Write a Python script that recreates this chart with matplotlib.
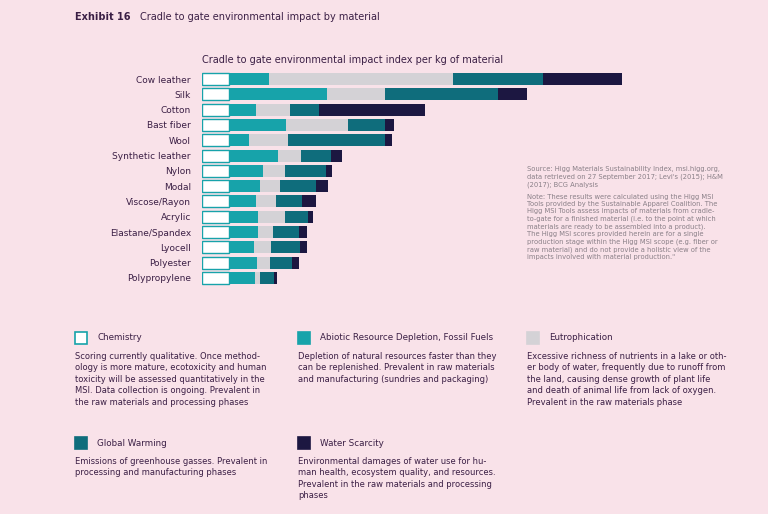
import matplotlib
matplotlib.use("Agg")
import matplotlib.pyplot as plt
import numpy as np

materials = ["Cow leather", "Silk", "Cotton", "Bast fiber", "Wool", "Synthetic leather", "Nylon",
             "Modal", "Viscose/Rayon", "Acrylic", "Elastane/Spandex", "Lyocell", "Polyester", "Polypropylene"]
chemistry = [27.3] * 14
abiotic = [39.3, 98.0, 26.7, 57.0, 19.7, 49.0, 33.3, 30.7, 26.7, 28.7, 28.7, 24.7, 28.0, 25.3]
eutro = [184.7, 57.7, 34.0, 62.0, 39.0, 22.3, 22.3, 20.3, 20.3, 27.0, 15.0, 17.0, 12.3, 5.3]
warming = [90.0, 112.7, 28.7, 36.7, 97.0, 30.3, 40.7, 36.0, 25.7, 23.0, 26.3, 29.0, 22.7, 13.7]
water = [78.3, 29.3, 106.0, 9.3, 6.7, 11.0, 6.0, 11.3, 14.3, 5.3, 8.0, 7.3, 6.3, 3.3]

BG = "#F9E2E9"
TXT = "#3B1F45"
GREY = "#8A8088"
C_CHEM = "#FFFFFF"; C_AB = "#17A3AA"; C_EU = "#D4D2D6"; C_GW = "#0F6D7C"; C_WS = "#1C1741"

W, H = 768, 514
fig = plt.figure(figsize=(W/100, H/100), dpi=100, facecolor=BG)

def fx(x): return x / W
def fy(y): return 1 - y / H

ax = fig.add_axes([fx(202), fy(285.6), 420/W, (285.6-71.4)/H])
ax.set_facecolor(BG)
y = np.arange(len(materials))
left = np.zeros(len(materials))
ax.barh(y, chemistry, left=left, height=0.78, color=C_CHEM, edgecolor=C_AB, linewidth=1.0)
left += np.array(chemistry)
for vals, c in [(abiotic, C_AB), (eutro, C_EU), (warming, C_GW), (water, C_WS)]:
    ax.barh(y, vals, left=left, height=0.78, color=c, linewidth=0)
    left += np.array(vals)
ax.set_xlim(0, 420)
ax.set_ylim(13.5, -0.5)
ax.set_yticks(y)
ax.set_yticklabels(materials, fontsize=6.5, color=TXT)
ax.tick_params(axis="y", length=0, pad=8)
ax.set_xticks([])
for s in ax.spines.values():
    s.set_visible(False)

fig.text(fx(75), fy(17), "Exhibit 16", fontsize=7, fontweight="bold", color=TXT, va="center")
fig.text(fx(140), fy(17), "Cradle to gate environmental impact by material", fontsize=7, color=TXT, va="center")
fig.text(fx(202), fy(60), "Cradle to gate environmental impact index per kg of material", fontsize=7, color=TXT, va="center")

src = ("Source: Higg Materials Sustainability Index, msi.higg.org,\n"
       "data retrieved on 27 September 2017; Levi's (2015); H&M\n"
       "(2017); BCG Analysis")
note = ("Note: These results were calculated using the Higg MSI\n"
        "Tools provided by the Sustainable Apparel Coalition. The\n"
        "Higg MSI Tools assess impacts of materials from cradle-\n"
        "to-gate for a finished material (i.e. to the point at which\n"
        "materials are ready to be assembled into a product).\n"
        "The Higg MSI scores provided herein are for a single\n"
        "production stage within the Higg MSI scope (e.g. fiber or\n"
        "raw material) and do not provide a holistic view of the\n"
        "impacts involved with material production.\"")
fig.text(fx(527), fy(166), src, fontsize=4.9, color=GREY, va="top", linespacing=1.25)
fig.text(fx(527), fy(194), note, fontsize=4.9, color=GREY, va="top", linespacing=1.25)

legend = [
    (75, 338, C_CHEM, "Chemistry",
     "Scoring currently qualitative. Once method-\nology is more mature, ecotoxicity and human\ntoxicity will be assessed quantitatively in the\nMSI. Data collection is ongoing. Prevalent in\nthe raw materials and processing phases"),
    (298, 338, C_AB, "Abiotic Resource Depletion, Fossil Fuels",
     "Depletion of natural resources faster than they\ncan be replenished. Prevalent in raw materials\nand manufacturing (sundries and packaging)"),
    (527, 338, C_EU, "Eutrophication",
     "Excessive richness of nutrients in a lake or oth-\ner body of water, frequently due to runoff from\nthe land, causing dense growth of plant life\nand death of animal life from lack of oxygen.\nPrevalent in the raw materials phase"),
    (75, 443, C_GW, "Global Warming",
     "Emissions of greenhouse gasses. Prevalent in\nprocessing and manufacturing phases"),
    (298, 443, C_WS, "Water Scarcity",
     "Environmental damages of water use for hu-\nman health, ecosystem quality, and resources.\nPrevalent in the raw materials and processing\nphases"),
]
for x0, y0, c, title, desc in legend:
    fig.patches.append(plt.Rectangle((fx(x0), fy(y0 + 6)), 12/W, 12/H, transform=fig.transFigure,
                                     facecolor=c, edgecolor=C_AB if c == C_CHEM else c, linewidth=1.2))
    fig.text(fx(x0 + 22), fy(y0), title, fontsize=6.3, color=TXT, va="center")
    fig.text(fx(x0), fy(y0 + 14), desc, fontsize=6.0, color=TXT, va="top", linespacing=1.35)

fig.savefig("out.png", dpi=100, facecolor=BG)
